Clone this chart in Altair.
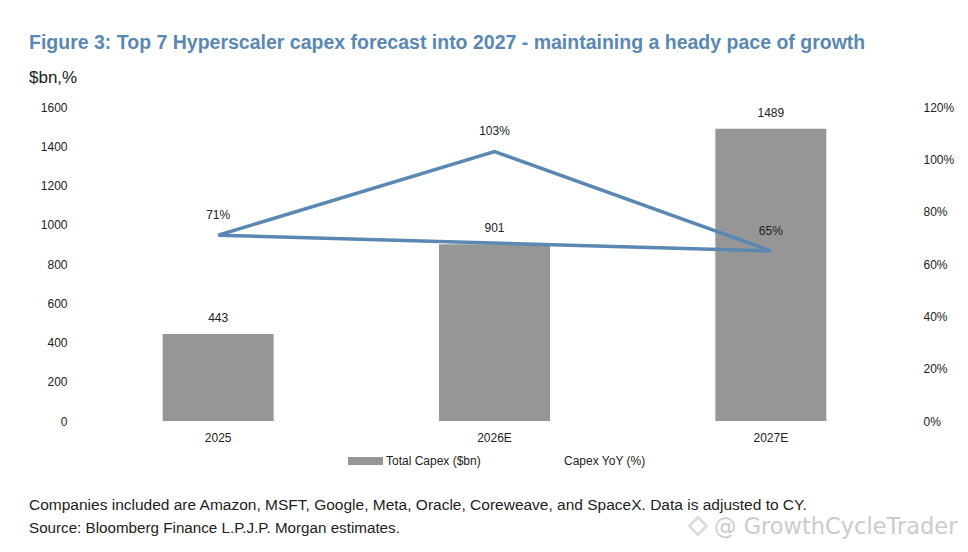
import altair as alt
import pandas as pd

categories = ["2025", "2026E", "2027E"]
capex = [443, 901, 1489]
yoy_cats = ["2025", "2026E", "2027E", "2025"]
yoy = [71, 103, 65, 71]
yoy_labels = ["71%", "103%", "65%"]
left_ticks = [0, 200, 400, 600, 800, 1000, 1200, 1400, 1600]
right_ticks = [0, 20, 40, 60, 80, 100, 120]

FONT = "Liberation Sans"
INK = "#222222"
BLUE = "#5b88b2"
GREY = "#969696"
MARK = "#cbcbcb"

bars_df = pd.DataFrame({"cat": categories, "capex": capex})
line_df = pd.DataFrame({"cat": yoy_cats, "yoy": yoy, "ord": range(4)})
lab_df = pd.DataFrame({"cat": categories, "yoy": yoy[:3], "label": yoy_labels})

x = alt.X("cat:N", sort=categories, title=None,
          scale=alt.Scale(domain=categories, paddingInner=0.6, paddingOuter=0.3),
          axis=alt.Axis(labelAngle=0, domain=False, ticks=False, labelFont=FONT, labelFontSize=12,
                        labelColor=INK, labelPadding=11, grid=False))

left_scale = alt.Scale(domain=[0, 1600])
right_scale = alt.Scale(domain=[0, 120])
yl = alt.Y("capex:Q", scale=left_scale, title=None,
           axis=alt.Axis(values=left_ticks, format="d", grid=False, domain=False, ticks=False,
                         labelFont=FONT, labelFontSize=12, labelColor=INK, labelPadding=13))
yr = alt.Y("yoy:Q", scale=right_scale, title=None,
           axis=alt.Axis(values=right_ticks, orient="right", grid=False, domain=False, ticks=False,
                         labelFont=FONT, labelFontSize=12, labelColor=INK, labelPadding=14,
                         labelExpr="datum.value + '%'"))

bars = alt.Chart(bars_df).mark_bar(color=GREY, size=111).encode(x=x, y=yl)
bar_text = alt.Chart(bars_df).mark_text(dy=-16, font=FONT, fontSize=12, color=INK).encode(
    x=x, y=alt.Y("capex:Q", scale=left_scale, axis=None), text="capex:Q")
line = alt.Chart(line_df).mark_line(color=BLUE, strokeWidth=3.5).encode(x=x, y=yr, order="ord:Q")
line_text = alt.Chart(lab_df).mark_text(dy=-20, font=FONT, fontSize=12, color=INK).encode(
    x=x, y=alt.Y("yoy:Q", scale=right_scale, axis=None), text="label:N")

OX, OY = 80, 107


def txt(s, px, py, size, color=INK, weight="normal", font=FONT):
    return alt.Chart(pd.DataFrame({"t": [s]})).mark_text(
        font=font, fontSize=size, color=color, fontWeight=weight, align="left", baseline="middle"
    ).encode(text="t:N", x=alt.value(px - OX), y=alt.value(py - OY))


texts = [
    txt("Figure 3: Top 7 Hyperscaler capex forecast into 2027 - maintaining a heady pace of growth",
        29, 43, 19.5, BLUE, "bold"),
    txt("$bn,%", 29, 78, 17),
    txt("Total Capex ($bn)", 386, 461, 12),
    txt("Capex YoY (%)", 564, 461, 12),
    txt("Companies included are Amazon, MSFT, Google, Meta, Oracle, Coreweave, and SpaceX. Data is adjusted to CY.",
        29, 505, 15.5),
    txt("Source: Bloomberg Finance L.P.J.P. Morgan estimates.", 29, 528, 15.2),
    txt("@ GrowthCycleTrader", 714, 527, 22.5, MARK, font="DejaVu Sans"),
]
swatch = alt.Chart(pd.DataFrame({"a": [0]})).mark_rect(color=GREY).encode(
    x=alt.value(348 - OX), x2=alt.value(383 - OX), y=alt.value(457 - OY), y2=alt.value(465 - OY))
logo = alt.Chart(pd.DataFrame({"a": [0]})).mark_point(
    shape="diamond", size=300, color=MARK, strokeWidth=2.5, filled=False
).encode(x=alt.value(698 - OX), y=alt.value(526 - OY))

chart = alt.layer(bars, bar_text, line, line_text, swatch, logo, *texts).resolve_scale(
    y="independent"
).properties(
    width=829, height=314,
    padding={"left": 72, "top": 99, "right": 51, "bottom": 123},
    autosize=alt.AutoSizeParams(type="none"),
    background="white",
).configure_view(strokeWidth=0)

chart.save("out.html", embed_options={"renderer": "svg", "actions": False})
